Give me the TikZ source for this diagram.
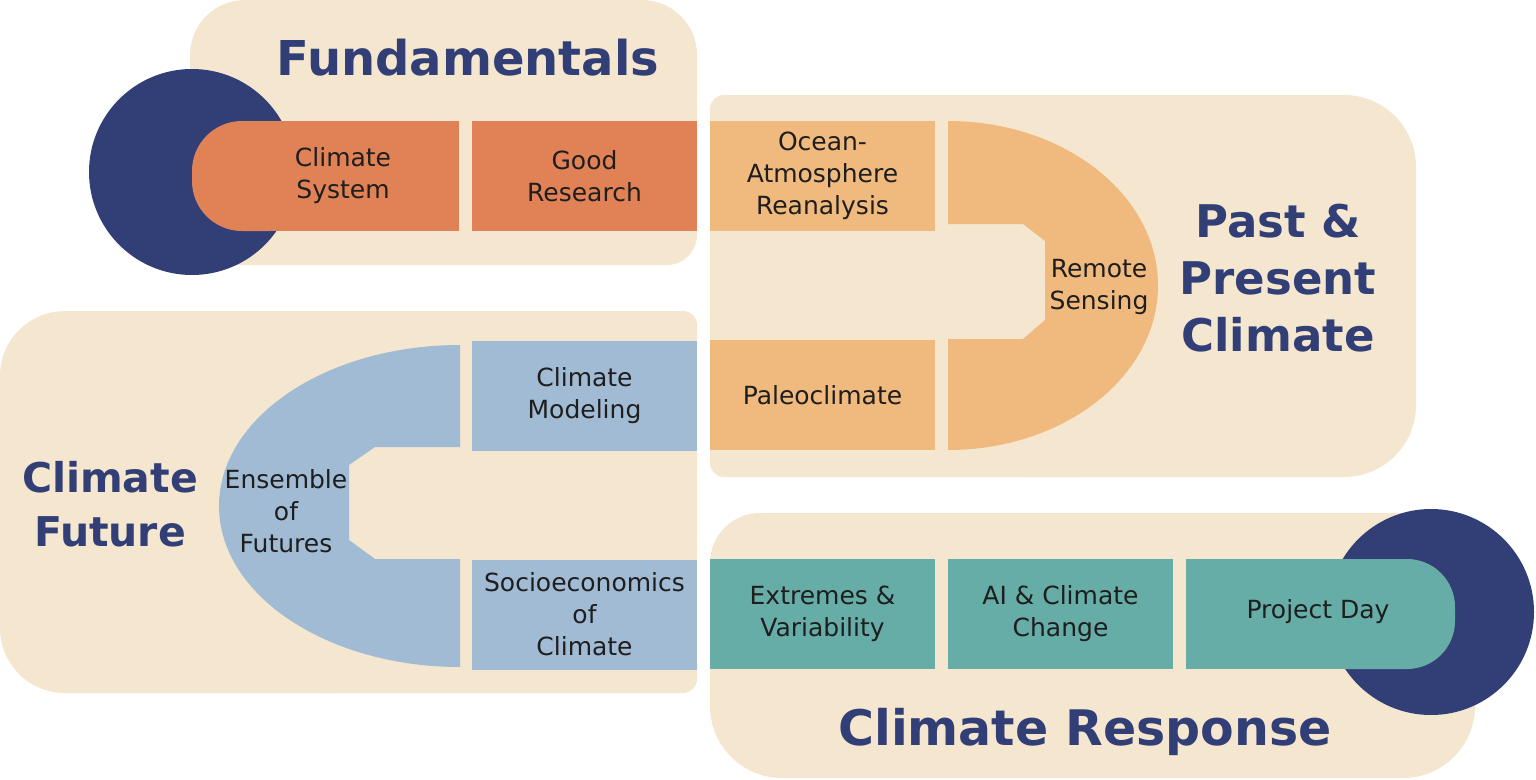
\documentclass[tikz,border=0pt]{standalone}
\usepackage{fontspec}
\setmainfont{DejaVu Sans}
\definecolor{cream}{HTML}{F4E6CF}
\definecolor{navy}{HTML}{323F76}
\definecolor{rust}{HTML}{E08256}
\definecolor{sand}{HTML}{F0B97E}
\definecolor{sky}{HTML}{A2BBD5}
\definecolor{tealbox}{HTML}{66ADA8}
\definecolor{ink}{HTML}{1E1E1E}
\tikzset{
  modtext/.style={inner sep=0pt, align=center, text=ink, font=\fontsize{25}{32}\selectfont},
  module/.style={modtext, minimum width=225, minimum height=110},
  heading/.style 2 args={inner sep=0pt, align=center, text=navy, font=\bfseries\fontsize{#1}{#2}\selectfont}
}
\begin{document}
\begin{tikzpicture}[x=1pt, y=-1pt]
  \useasboundingbox (0, 0) rectangle (1536, 779);
  \fill[cream, rounded corners=55] (190, 0) rectangle (697, 200);
  \fill[cream, rounded corners=30] (190, 100) rectangle (697, 265);
  \fill[cream, rounded corners=14] (710, 95) rectangle (1100, 477);
  \fill[cream, rounded corners=72] (950, 95) rectangle (1416, 477);
  \fill[cream, rounded corners=65] (0, 311) rectangle (400, 693);
  \fill[cream, rounded corners=14] (300, 311) rectangle (697, 693);
  \fill[cream, rounded corners=50] (710, 513) rectangle (1475, 700);
  \fill[cream, rounded corners=72] (710, 600) rectangle (1475, 778);
  \fill[navy] (192, 172) circle[radius=103];
  \fill[navy] (1431, 612) circle[radius=103];
  \fill[rust, rounded corners=50] (192, 121) rectangle (320, 231);
  \fill[rust] (260, 121) rectangle (459, 231);
  \fill[tealbox] (1186, 559) rectangle (1380, 669);
  \fill[tealbox, rounded corners=48] (1300, 559) rectangle (1455, 669);
  \fill[sand] (948, 121) arc[start angle=-90, end angle=90, x radius=210, y radius=164.5] -- (948, 339) -- (1023, 339) -- (1045, 320) -- (1045, 241) -- (1023, 224) -- (948, 224) -- cycle;
  \fill[sky] (460, 345) arc[start angle=-90, end angle=-270, x radius=241, y radius=161] -- (460, 559) -- (375, 559) -- (349, 540) -- (349, 465) -- (375, 447) -- (460, 447) -- cycle;
  \node[modtext] (system) at (343, 176) {Climate\\System};
  \node[module, fill=rust] (research) at (584.5, 176) {Good\\Research};
  \node[module, fill=sand] (reanalysis) at (822.5, 176) {Ocean-\\Atmosphere\\Reanalysis};
  \node[module, fill=sand] (paleo) at (822.5, 395) {Paleoclimate};
  \node[modtext] (sensing) at (1099, 287) {Remote\\Sensing};
  \node[module, fill=sky] (modeling) at (584.5, 396) {Climate\\Modeling};
  \node[module, fill=sky] (socio) at (584.5, 614.5) {Socioeconomics\\of\\Climate};
  \node[modtext] (ensemble) at (286, 511) {Ensemble\\of\\Futures};
  \node[module, fill=tealbox] (extremes) at (822.5, 614) {Extremes \&\\Variability};
  \node[module, fill=tealbox] (aichange) at (1060.5, 614) {AI \& Climate\\Change};
  \node[modtext] (project) at (1318, 612) {Project Day};
  \node[heading={48}{61}] (fundamentals) at (468, 58) {Fundamentals};
  \node[heading={45}{57}] (past) at (1278, 278) {Past \&\\Present\\Climate};
  \node[heading={41}{54}] (future) at (110, 504) {Climate\\Future};
  \node[heading={49}{62}] (response) at (1085, 732) {Climate Response};
\end{tikzpicture}
\end{document}
